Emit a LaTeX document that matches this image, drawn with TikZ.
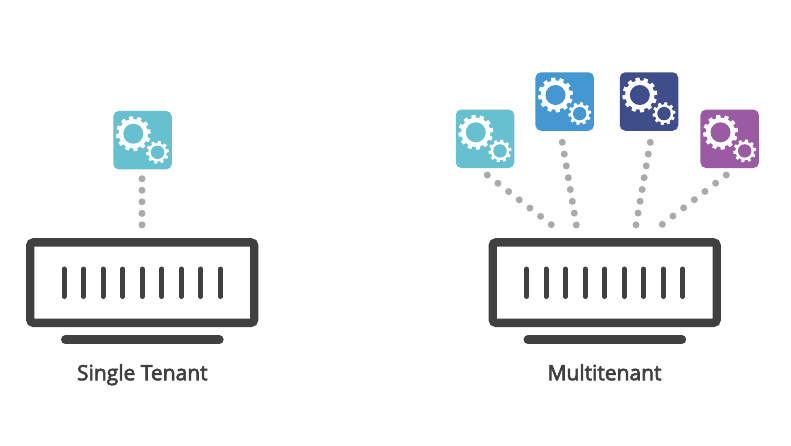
\documentclass[tikz,border=0pt]{standalone}
\usepackage{fontspec}
\setmainfont{Open Sans}
\newfontfamily\labfont[FakeBold=3]{Open Sans}
\definecolor{ink}{HTML}{404040}
\definecolor{dotc}{HTML}{AAAAAA}
\definecolor{cteal}{HTML}{67C0D0}
\definecolor{cblue}{HTML}{4497D0}
\definecolor{cnavy}{HTML}{3F4E8B}
\definecolor{cpurp}{HTML}{9B5BA3}
\tikzset{
  iconbox/.style={minimum size=58.5pt,inner sep=0pt,rounded corners=5.5pt,outer sep=0pt},
  conn/.style={draw=dotc,line width=7pt,line cap=round},
  frame/.style={draw=ink,line width=8.4pt,rounded corners=3.5pt},
  slot/.style={draw=ink,line width=5pt,line cap=round},
  base/.style={draw=ink,line width=9pt,line cap=round},
  lab/.style={text=ink,font=\labfont\fontsize{21pt}{22pt}\selectfont,inner sep=0pt,anchor=base},
}
% \gearat{cx}{cy}{outer}{root}{hole}{teeth}{toothwidth}{holecolour}
\newcommand{\gearat}[8]{%
  \fill[white] (#1,#2) circle[radius=#4];
  \foreach \a in {1,...,#6}
    \fill[white,shift={(#1,#2)},rotate=\a*360/#6+8]
      (#4-1,-#7/2-0.3) -- (#3,-#7/2) -- (#3,#7/2) -- (#4-1,#7/2+0.3) -- cycle;
  \fill[#8] (#1,#2) circle[radius=#5];}
\newcommand{\gears}[3]{%
  \gearat{#1-9.2}{#2-6.5}{17.4}{14.6}{10}{12}{4}{#3}%
  \gearat{#1+15}{#2+12.1}{11.4}{9.3}{6.7}{10}{2.8}{#3}}
\begin{document}
\begin{tikzpicture}[x=1pt,y=-1pt]
\useasboundingbox (0,0) rectangle (791,445);
\fill[white] (0,0) rectangle (791,445);
% single tenant
\coordinate (s1) at (142,178.7); \coordinate (s2) at (142,225);
\draw[conn,dash pattern=on 0pt off 11.55pt] (s1) -- (s2);
\node[iconbox,fill=cteal] (iconS) at (142.5,140.2) {};
\gears{142.5}{140.2}{cteal}
\node[frame,minimum width=224pt,minimum height=80.6pt,inner sep=0pt] (srvS) at (142.2,282.6) {};
\foreach \i in {0,...,8} \draw[slot] (64+\i*19.54,269) -- (64+\i*19.54,296.5);
\coordinate (bS1) at (65.5,339.7); \coordinate (bS2) at (219.2,339.7);
\draw[base] (bS1) -- (bS2);
\node[lab] (labS) at (142.3,380.2) {Single Tenant};
% multitenant
\coordinate (t1) at (487.3,175); \coordinate (t2) at (551.3,224.7);
\coordinate (b1) at (562.3,142.3); \coordinate (b2) at (576.3,225);
\coordinate (n1) at (650.3,142.3); \coordinate (n2) at (636,225);
\coordinate (p1) at (726.3,175); \coordinate (p2) at (662.3,224.3);
\draw[conn,dash pattern=on 0pt off 13.49pt] (t1) -- (t2);
\draw[conn,dash pattern=on 0pt off 11.97pt] (b1) -- (b2);
\draw[conn,dash pattern=on 0pt off 11.97pt] (n1) -- (n2);
\draw[conn,dash pattern=on 0pt off 13.46pt] (p1) -- (p2);
\node[iconbox,fill=cteal] (iconT) at (485,138.8) {};
\gears{485}{138.8}{cteal}
\node[iconbox,fill=cblue] (iconB) at (564.7,101.5) {};
\gears{564.7}{101.5}{cblue}
\node[iconbox,fill=cnavy] (iconN) at (649,101.5) {};
\gears{649}{101.5}{cnavy}
\node[iconbox,fill=cpurp] (iconP) at (729.7,138.8) {};
\gears{729.7}{138.8}{cpurp}
\node[frame,minimum width=224pt,minimum height=80.6pt,inner sep=0pt] (srvM) at (604.7,282.6) {};
\foreach \i in {0,...,8} \draw[slot] (526.5+\i*19.54,269) -- (526.5+\i*19.54,296.5);
\coordinate (bM1) at (528,339.7); \coordinate (bM2) at (681.7,339.7);
\draw[base] (bM1) -- (bM2);
\node[lab] (labM) at (604.5,380.2) {Multitenant};
\end{tikzpicture}
\end{document}
